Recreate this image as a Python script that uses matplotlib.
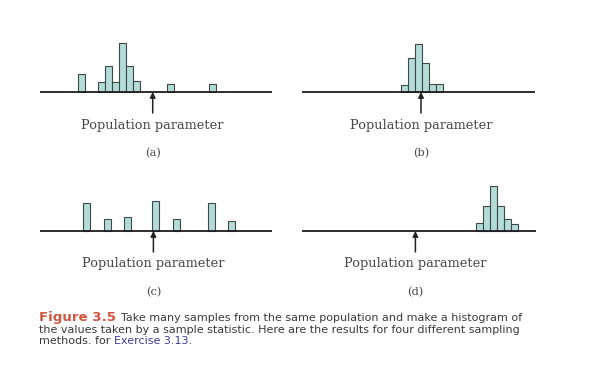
import matplotlib.pyplot as plt

W, H = 602, 381
BIN_PX = 7.0  # one histogram bin, in pixels

# panel (a): left edge of each bar (bins from line start) and bar heights
a_left = [5.4, 8.3, 9.3, 10.3, 11.3, 12.3, 13.3, 18.1, 24.1]
a_height = [18, 9.7, 26.3, 9.7, 49, 26.3, 11.3, 8, 8]
a_param = 16.1

# panel (b)
b_left = [14.1, 15.1, 16.1, 17.1, 18.1, 19.1]
b_height = [6.7, 34, 48.3, 29, 8.3, 8.3]
b_param = 17.0

# panel (c)
c_left = [6.2, 9.1, 12.0, 16.0, 19.0, 24.0, 26.9]
c_height = [28, 11.7, 13.7, 29.7, 11.7, 28, 10.3]
c_param = 16.2

# panel (d)
d_left = [24.9, 25.9, 26.9, 27.9, 28.9, 29.9]
d_height = [8.3, 24.7, 44.7, 24.7, 11.7, 6.7]
d_param = 16.2

panels = [
    ('(a)', a_left, a_height, a_param, 40, 272, 92),
    ('(b)', b_left, b_height, b_param, 302, 535, 92),
    ('(c)', c_left, c_height, c_param, 40, 272, 231),
    ('(d)', d_left, d_height, d_param, 302, 536, 231),
]

fig = plt.figure(figsize=(W / 100, H / 100), dpi=100)
fig.patch.set_facecolor('white')

TOP, BOT = 55, 70  # pixels above / below the axis line covered by each axes

for lab, left, height, param, x0, x1, yline in panels:
    ax = fig.add_axes([x0 / W, 1 - (yline + BOT) / H, (x1 - x0) / W, (TOP + BOT) / H])
    ax.set_xlim(0, (x1 - x0) / BIN_PX)
    ax.set_ylim(-BOT, TOP)
    ax.axis('off')
    ax.bar(left, height, width=1.0, align='edge', color='#b5dbd6',
           edgecolor='#3a4a48', linewidth=0.8, zorder=2)
    ax.axhline(0, color='#1e1e1e', lw=1.3, zorder=3)
    ax.annotate('', xy=(param, 0), xytext=(param, -21),
                arrowprops=dict(arrowstyle='-|>', color='#222222', lw=1.1,
                                mutation_scale=8, shrinkA=0, shrinkB=0), zorder=4)
    ax.text(param, -33, 'Population parameter', ha='center', va='center',
            family='DejaVu Serif', fontsize=9.3, color='#474747')
    ax.text(param, -61, lab, ha='center', va='center',
            family='DejaVu Serif', fontsize=8.2, color='#474747')

# caption
cap_font = dict(family='DejaVu Sans', fontsize=8.0, color='#3a3a3a', va='center')
fig.text(39 / W, 1 - 318 / H, 'Figure 3.5', family='DejaVu Sans', fontsize=9.6,
         color='#d2553f', weight='bold', va='center')
fig.text(121 / W, 1 - 318 / H,
         'Take many samples from the same population and make a histogram of',
         **cap_font)
fig.text(39 / W, 1 - 330 / H,
         'the values taken by a sample statistic. Here are the results for four different sampling',
         **cap_font)
t3 = fig.text(39 / W, 1 - 341 / H, 'methods. for', **cap_font)

# place the link text right after "methods. for"
fig.canvas.draw()
bb = t3.get_window_extent()
fig.text((bb.x1 + 4) / W, 1 - 341 / H, 'Exercise 3.13.', family='DejaVu Sans',
         fontsize=8.0, color='#3c3c9e', va='center')

fig.savefig('out.png', dpi=100)
